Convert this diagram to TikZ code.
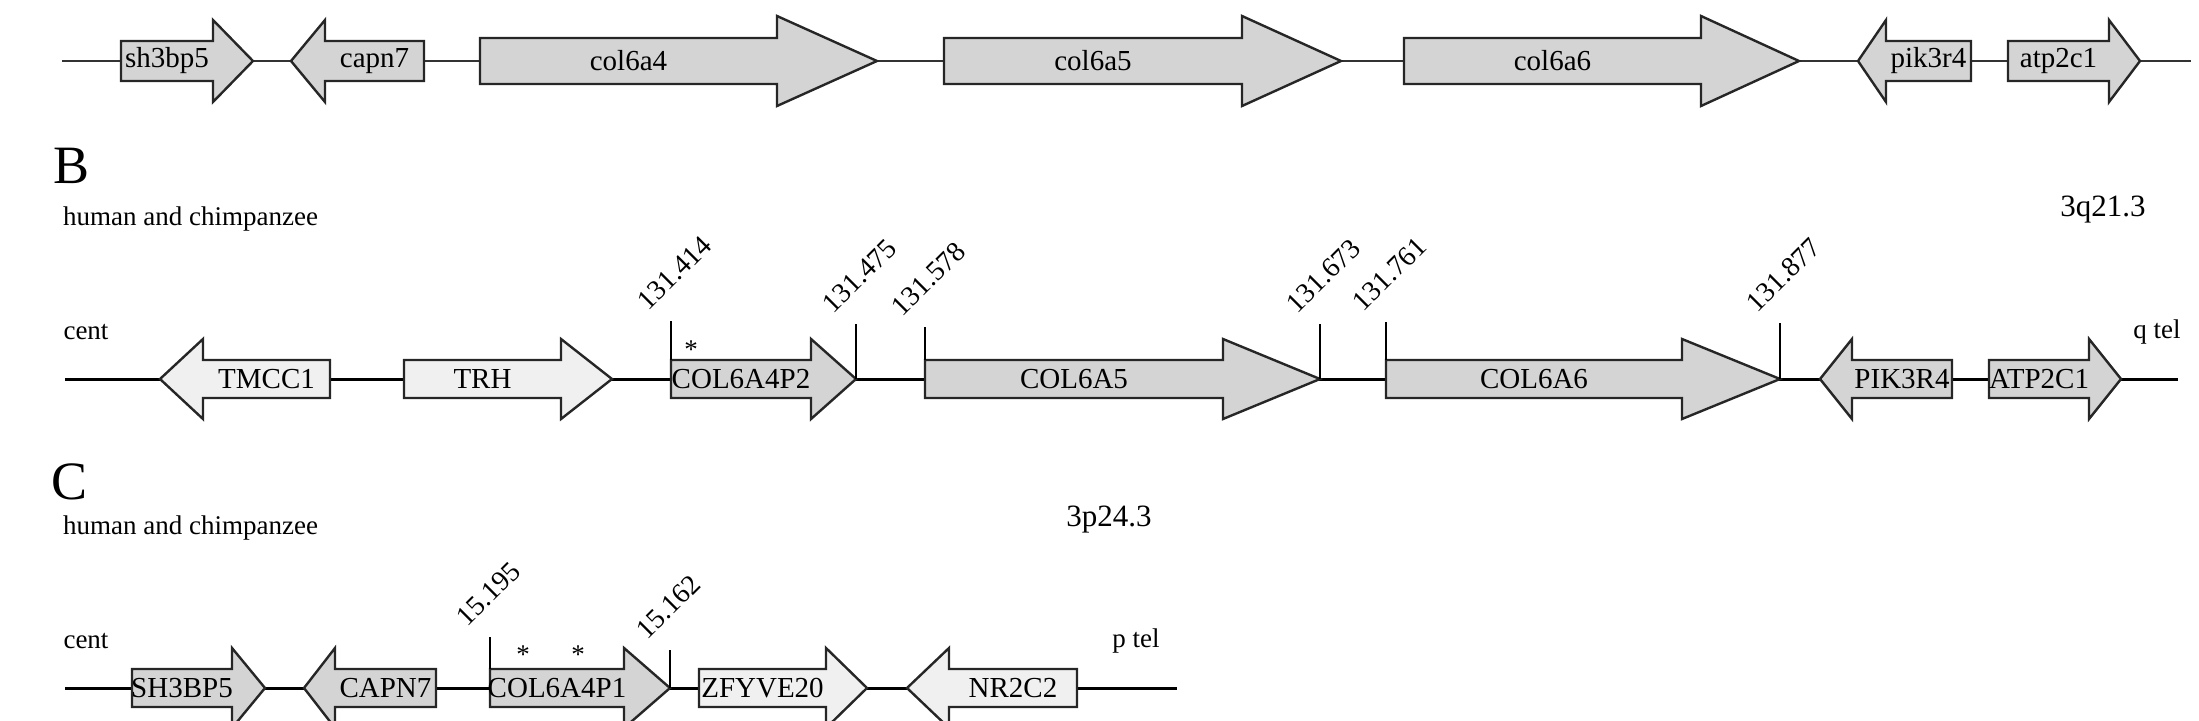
\documentclass[tikz,border=0pt]{standalone}
\usepackage{fontspec}
\setmainfont{Liberation Serif}
\usetikzlibrary{calc}
\definecolor{gA}{RGB}{212,212,212}
\definecolor{gL}{RGB}{240,240,240}
\newcommand{\gene}[9]{%
 \draw[gene,fill=#8] (#2,#5-#6)--(#3,#5-#6)--(#3,#5-#7)--(#4,#5)--(#3,#5+#7)--(#3,#5+#6)--(#2,#5+#6)--cycle;
 \node[glab] (#1) at ({(#2+#3)/2},#5) {#9};}
\begin{document}
\begin{tikzpicture}[x=1pt,y=-1pt,
 gene/.style={line width=2.4pt,draw=black!85,line join=miter},
 glab/.style={font=\rmfamily\fontsize{29}{31}\selectfont,inner sep=0pt},
 posl/.style={font=\rmfamily\fontsize{28}{30}\selectfont,rotate=45,anchor=south west,inner sep=2pt},
 tick/.style={line width=1.4pt},
 txt/.style={font=\rmfamily\fontsize{27}{29}\selectfont,inner sep=0pt},
 bb/.style={line width=3pt}]
\useasboundingbox (0,0) rectangle (2199,720);
% Row A
\draw[line width=2.2pt,black!80] (62,61) -- (2191,61);
\gene{a1}{121}{213}{253}{61}{20}{41}{gA}{sh3bp5}
\gene{a2}{424}{325}{291}{61}{20}{41}{gA}{capn7}
\gene{a3}{480}{777}{877}{61}{23}{45}{gA}{col6a4}
\gene{a4}{944}{1242}{1341}{61}{23}{45}{gA}{col6a5}
\gene{a5}{1404}{1701}{1799}{61}{23}{45}{gA}{col6a6}
\gene{a6}{1971}{1886}{1858}{61}{20}{41}{gA}{pik3r4}
\gene{a7}{2008}{2109}{2140}{61}{20}{41}{gA}{atp2c1}
% Row B
\node[font=\rmfamily\fontsize{54}{56}\selectfont,inner sep=0pt] (B) at (72,166) {B};
\node[txt,anchor=west] (hB) at (63,219) {human and chimpanzee};
\node[txt] (cB) at (86,332) {cent};
\node[font=\rmfamily\fontsize{31}{33}\selectfont,inner sep=0pt] (qB) at (2103,210) {3q21.3};
\node[txt] (qt) at (2157,332) {q tel};
\draw[bb] (65,379) -- (2178,379);
\gene{b1}{330}{203}{160}{379}{19}{40}{gL}{TMCC1}
\gene{b2}{404}{561}{612}{379}{19}{40}{gL}{TRH}
\gene{b3}{671}{811}{856}{379}{19}{40}{gA}{COL6A4P2}
\gene{b4}{925}{1223}{1320}{379}{19}{40}{gA}{COL6A5}
\gene{b5}{1386}{1682}{1780}{379}{19}{40}{gA}{COL6A6}
\gene{b6}{1952}{1852}{1820}{379}{19}{40}{gA}{PIK3R4}
\gene{b7}{1989}{2089}{2121}{379}{19}{40}{gA}{ATP2C1}
\node[txt] (sB) at (691,350) {*};
\coordinate (t1) at (671,321); \coordinate (t2) at (856,324); \coordinate (t3) at (925,327);
\coordinate (t4) at (1320,324); \coordinate (t5) at (1386,322); \coordinate (t6) at (1780,323);
\draw[tick] (t1) -- (671,360); \draw[tick] (t2) -- (856,379); \draw[tick] (t3) -- (925,360);
\draw[tick] (t4) -- (1320,379); \draw[tick] (t5) -- (1386,360); \draw[tick] (t6) -- (1780,379);
\node[posl] (p1) at ($(t1)+(-22,-6)$) {131.414};
\node[posl] (p2) at ($(t2)+(-22,-6)$) {131.475};
\node[posl] (p3) at ($(t3)+(-22,-6)$) {131.578};
\node[posl] (p4) at ($(t4)+(-22,-6)$) {131.673};
\node[posl] (p5) at ($(t5)+(-22,-6)$) {131.761};
\node[posl] (p6) at ($(t6)+(-22,-6)$) {131.877};
% Row C
\node[font=\rmfamily\fontsize{54}{56}\selectfont,inner sep=0pt] (C) at (70,482) {C};
\node[txt,anchor=west] (hC) at (63,528) {human and chimpanzee};
\node[font=\rmfamily\fontsize{31}{33}\selectfont,inner sep=0pt] (pC) at (1109,520) {3p24.3};
\node[txt] (cC) at (86,641) {cent};
\node[txt] (pt) at (1136,641) {p tel};
\draw[bb] (65,688) -- (1177,688);
\gene{c1}{132}{232}{265}{688}{19}{40}{gA}{SH3BP5}
\gene{c2}{436}{335}{304}{688}{19}{40}{gA}{CAPN7}
\gene{c3}{490}{624}{670}{688}{19}{40}{gA}{COL6A4P1}
\gene{c4}{699}{826}{867}{688}{19}{40}{gL}{ZFYVE20}
\gene{c5}{1077}{949}{907}{688}{19}{40}{gL}{NR2C2}
\node[txt] (s1) at (523,655) {*};
\node[txt] (s2) at (578,655) {*};
\coordinate (u1) at (490,637); \coordinate (u2) at (670,650);
\draw[tick] (u1) -- (490,669); \draw[tick] (u2) -- (670,688);
\node[posl] (q1) at ($(u1)+(-22,-6)$) {15.195};
\node[posl] (q2) at ($(u2)+(-22,-6)$) {15.162};
\end{tikzpicture}
\end{document}
